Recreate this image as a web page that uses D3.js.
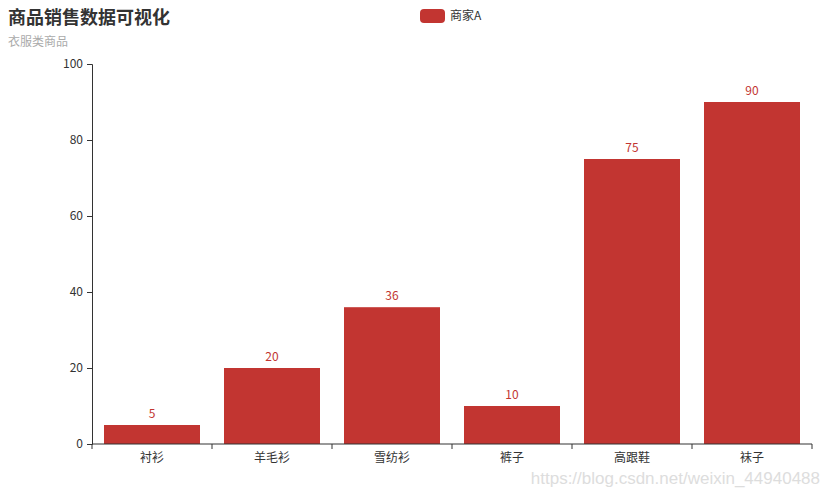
<!DOCTYPE html>
<html>
<head>
<meta charset="utf-8">
<script src="https://cdn.jsdelivr.net/npm/d3@7"></script>
<style>
  body { margin: 0; background: #fff; }
  text { font-family: "Noto Sans CJK SC", "Microsoft YaHei", sans-serif; }
</style>
</head>
<body>
<div id="chart"></div>
<script>
// chart data
const categories = ['衬衫', '羊毛衫', '雪纺衫', '裤子', '高跟鞋', '袜子'];
const salesA = [5, 20, 36, 10, 75, 90];
const yTicks = [0, 20, 40, 60, 80, 100];
const seriesName = '商家A';

const width = 830, height = 496;
const margin = { top: 64, right: 18, bottom: 52, left: 92 };
const barColor = '#c23531';

const svg = d3.select('#chart').append('svg')
  .attr('width', width)
  .attr('height', height);

// title and subtitle
svg.append('text')
  .attr('x', 8).attr('y', 24)
  .style('font-size', '18px').style('font-weight', 'bold').style('fill', '#333')
  .text('商品销售数据可视化');
svg.append('text')
  .attr('x', 8).attr('y', 46)
  .style('font-size', '12px').style('fill', '#aaa')
  .text('衣服类商品');

// legend
const legend = svg.append('g').attr('transform', 'translate(420,9)');
legend.append('rect')
  .attr('width', 25).attr('height', 14).attr('rx', 4)
  .style('fill', barColor);
legend.append('text')
  .attr('x', 30).attr('y', 7).attr('dy', '0.35em')
  .style('font-size', '12px').style('fill', '#333')
  .text(seriesName);

const x = d3.scaleBand()
  .domain(categories)
  .range([margin.left, width - margin.right])
  .paddingInner(0.2)
  .paddingOuter(0.1);

const y = d3.scaleLinear()
  .domain([0, 100])
  .range([height - margin.bottom, margin.top]);

// bars
svg.append('g').selectAll('rect')
  .data(salesA)
  .enter().append('rect')
  .attr('x', (d, i) => x(categories[i]))
  .attr('y', d => y(d))
  .attr('width', x.bandwidth())
  .attr('height', d => y(0) - y(d))
  .style('fill', barColor);

// value labels
svg.append('g').selectAll('text')
  .data(salesA)
  .enter().append('text')
  .attr('x', (d, i) => x(categories[i]) + x.bandwidth() / 2)
  .attr('y', d => y(d) - 7)
  .attr('text-anchor', 'middle')
  .style('font-size', '12px').style('fill', barColor)
  .text(d => d);

// y axis
const yAxis = svg.append('g')
  .attr('transform', `translate(${margin.left},0)`)
  .call(d3.axisLeft(y).tickValues(yTicks).tickSize(5).tickPadding(4));
yAxis.selectAll('text').style('font-size', '12px').style('fill', '#333');
yAxis.selectAll('line, path').style('stroke', '#333');

// x axis with ticks at band boundaries
const xBand = d3.scaleLinear().domain([0, categories.length]).range([margin.left, width - margin.right]);
const xAxisG = svg.append('g').attr('transform', `translate(0,${y(0)})`);
xAxisG.append('line')
  .attr('x1', margin.left).attr('x2', width - margin.right)
  .style('stroke', '#333');
xAxisG.selectAll('.tick')
  .data(d3.range(categories.length + 1))
  .enter().append('line')
  .attr('x1', d => xBand(d)).attr('x2', d => xBand(d))
  .attr('y1', 0).attr('y2', 5)
  .style('stroke', '#333');
xAxisG.selectAll('.lbl')
  .data(categories)
  .enter().append('text')
  .attr('x', (d, i) => xBand(i + 0.5))
  .attr('y', 18)
  .attr('text-anchor', 'middle')
  .style('font-size', '12px').style('fill', '#333')
  .text(d => d);

// watermark
svg.append('text')
  .attr('x', 820).attr('y', 484)
  .attr('text-anchor', 'end')
  .style('font-family', 'Arial, "Liberation Sans", sans-serif')
  .style('font-size', '17px').style('fill', '#ddd')
  .text('https://blog.csdn.net/weixin_44940488');
</script>
</body>
</html>
